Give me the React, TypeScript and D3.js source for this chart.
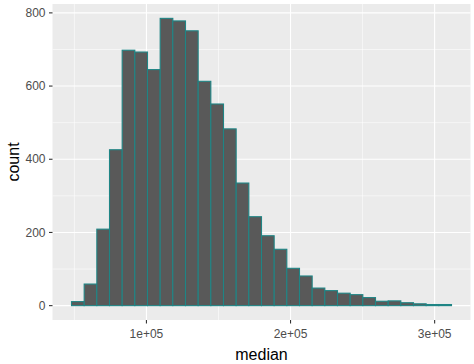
import React from "react";
import * as d3 from "d3";

const binStart = 48000;
const binWidth = 8790;
const counts = [11, 59, 209, 426, 698, 693, 645, 785, 778, 751, 613, 551, 483, 335, 243, 191, 154, 102, 81, 48, 41, 34, 30, 22, 12, 13, 8, 5, 3, 3];
const yTicks = [0, 200, 400, 600, 800];
const yMinor = [100, 300, 500, 700];
const xTicks = [100000, 200000, 300000];
const xTickLabels = ["1e+05", "2e+05", "3e+05"];
const xMinor = [50000, 150000, 250000];

const W = 474, H = 364;
const pL = 52.5, pR = 470.5, pT = 4, pB = 320;

export default function App() {
  const bins = counts.map((c, i) => ({ x0: binStart + i * binWidth, x1: binStart + (i + 1) * binWidth, c }));
  const xMin = binStart, xMax = binStart + counts.length * binWidth;
  const xr = xMax - xMin;
  const x = d3.scaleLinear().domain([xMin - 0.05 * xr, xMax + 0.05 * xr]).range([pL, pR]);
  const yMax = d3.max(counts)!;
  const y = d3.scaleLinear().domain([-0.05 * yMax, yMax * 1.05]).range([pB, pT]);
  const font = "'Liberation Sans', Arial, sans-serif";
  return (
    <svg width={W} height={H} style={{ position: "absolute", left: 0, top: 0, background: "#fff" }}>
      <rect x={pL} y={pT} width={pR - pL} height={pB - pT} fill="#EBEBEB" />
      {yMinor.map((t) => (
        <line key={"ym" + t} x1={pL} x2={pR} y1={y(t)} y2={y(t)} stroke="#fff" strokeWidth={0.55} />
      ))}
      {xMinor.map((t) => (
        <line key={"xm" + t} y1={pT} y2={pB} x1={x(t)} x2={x(t)} stroke="#fff" strokeWidth={0.55} />
      ))}
      {yTicks.map((t) => (
        <line key={"yg" + t} x1={pL} x2={pR} y1={y(t)} y2={y(t)} stroke="#fff" strokeWidth={1.1} />
      ))}
      {xTicks.map((t) => (
        <line key={"xg" + t} y1={pT} y2={pB} x1={x(t)} x2={x(t)} stroke="#fff" strokeWidth={1.1} />
      ))}
      {bins.map((b, i) => (
        <rect key={i} x={x(b.x0)} y={y(b.c)} width={x(b.x1) - x(b.x0)} height={y(0) - y(b.c)}
          fill="#595959" stroke="#1F8585" strokeWidth={1.1} />
      ))}
      {yTicks.map((t) => (
        <g key={"yt" + t}>
          <line x1={pL - 3.5} x2={pL} y1={y(t)} y2={y(t)} stroke="#333" strokeWidth={1.1} />
          <text x={pL - 7} y={y(t)} dy="0.35em" textAnchor="end" fontSize={12} fill="#4D4D4D" fontFamily={font}>{t}</text>
        </g>
      ))}
      {xTicks.map((t, i) => (
        <g key={"xt" + t}>
          <line x1={x(t)} x2={x(t)} y1={pB} y2={pB + 3.5} stroke="#333" strokeWidth={1.1} />
          <text x={x(t)} y={337.5} textAnchor="middle" fontSize={12} fill="#4D4D4D" fontFamily={font}>{xTickLabels[i]}</text>
        </g>
      ))}
      <text x={(pL + pR) / 2} y={360} textAnchor="middle" fontSize={16} fill="#000" fontFamily={font}>median</text>
      <text transform={`translate(18.5,${(pT + pB) / 2}) rotate(-90)`} textAnchor="middle" fontSize={16} fill="#000" fontFamily={font}>count</text>
    </svg>
  );
}
